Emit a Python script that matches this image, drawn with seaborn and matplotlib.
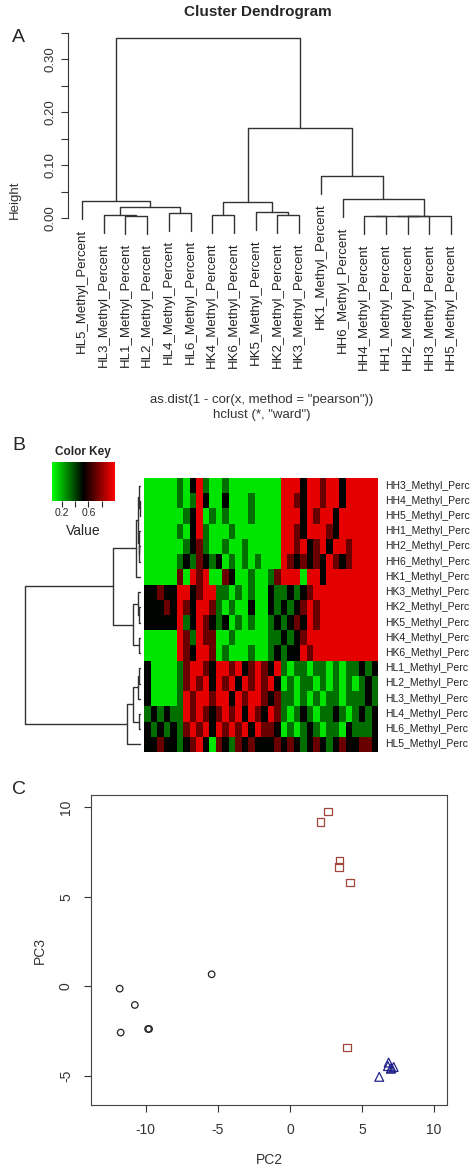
import numpy as np
import pandas as pd
import matplotlib
matplotlib.use("Agg")
import matplotlib.pyplot as plt
from matplotlib.colors import LinearSegmentedColormap
import seaborn as sns

sns.set_style("white")
plt.rcParams['font.family'] = ['Liberation Sans', 'DejaVu Sans']

# ---------------- data ----------------
dend_labels = ["HL5", "HL3", "HL1", "HL2", "HL4", "HL6", "HK4", "HK6", "HK5", "HK2", "HK3",
               "HK1", "HH6", "HH4", "HH1", "HH2", "HH3", "HH5"]
# merge tree (leaf indices in order above), heights
tree_hl = (0, ((1, (2, 3, 0.0045), 0.0057), (4, 5, 0.010), 0.021), 0.032)
tree_hk = ((6, 7, 0.006), (8, (9, 10, 0.005), 0.011), 0.030)
tree_hh = (11, (12, (((13, 14, 0.003), (15, 16, 0.003), 0.0031), 17, 0.0032), 0.036), 0.079)
tree_a = (tree_hl, (tree_hk, tree_hh, 0.17), 0.34)

heat_rows = ["HH3", "HH4", "HH5", "HH1", "HH2", "HH6", "HK1", "HK3", "HK2", "HK5", "HK4", "HK6",
             "HL1", "HL2", "HL3", "HL4", "HL6", "HL5"]
heat_codes = [
    "ggggg" "GgkRGg" "gGggggg" "ggg" "RRRkRRrRRkRRRRR",
    "ggggg" "GgGRkg" "gkgggGg" "ggg" "RRrkRRrRRkRRRRR",
    "ggggg" "gGkRgG" "gGgggGg" "ggg" "RRRkRrRRkRRRRRR",
    "ggggg" "GgkRGg" "ggGgggg" "ggg" "RRrkRRRrkRRRRRR",
    "ggggg" "gGkrGg" "gGggGgg" "ggg" "RRrRkrRkRRrRRRR",
    "ggggg" "GkGrkG" "kgGgGgG" "ggg" "RrkrkrkRrkrRRRR",
    "ggggg" "rgRrRg" "grkggGg" "gGr" "RRRgRRkRRRRRRRR",
    "kkrkk" "RRkrRR" "GGgGgGg" "gkG" "GkGkrRRRRRRRRRR",
    "kkkrk" "RrkRRr" "GgGggkg" "gkG" "kGkrRrRRRRRRRRR",
    "kkkkk" "RGkRrk" "GkgGgGg" "gGk" "GkrkRrRRRRRRRRR",
    "ggggg" "RrGRrr" "ggGgggg" "gGG" "kGkrRRRRRRRRRRR",
    "ggggg" "RrkRRr" "gGgggGg" "gGk" "GkkRrRRRRRRRRRR",
    "kgggg" "GrRRrk" "RRrRkrR" "rkR" "GgGGgGGgGgGGkGk",
    "kgggg" "GrRrRk" "RrRkRrR" "rRk" "gGgGGgGgGgGgGkG",
    "kgggg" "GRrRRr" "RRkRrRR" "rkr" "GGgGgGgGGgGGGkG",
    "GkGkG" "GRrRrk" "rRrRkRr" "kRr" "GgGkGgGGkGgGkGk",
    "kGkGk" "GrRrRk" "RrRrRkR" "rrk" "gGgGkGgGGgkGGGk",
    "kkrkk" "GkrRkg" "rkGrkrk" "kkr" "krkGkrkGkrkkrrk",
]
code_values = {"g": 0.10, "G": 0.32, "k": 0.52, "r": 0.72, "R": 0.95}
# row dendrogram of panel B (row indices above), heights in pixel units
tree_b_hh = (((0, (1, 2, 0.5), 1.0), (3, (4, 5, 0.8), 1.2), 2.0), 6, 4.0)
tree_b_hk = ((7, (8, 9, 1.0), 2.0), (10, 11, 1.5), 7.0)
tree_b_hl = ((((12, 13, 1.0), 14, 2.0), (15, 16, 1.5), 7.0), 17, 13.0)
tree_b = ((tree_b_hh, tree_b_hk, 27.0), tree_b_hl, 115.0)

circ_x = [-11.81, -10.76, -11.74, -9.77, -9.84, -5.43]
circ_y = [-0.13, -1.04, -2.58, -2.38, -2.38, 0.67]
sq_x = [2.65, 2.12, 3.44, 3.40, 4.16, 3.97]
sq_y = [9.76, 9.16, 7.01, 6.65, 5.80, -3.40]
tri_x = [6.85, 7.20, 6.80, 7.05, 7.00, 6.20]
tri_y = [-4.25, -4.50, -4.45, -4.55, -4.60, -5.05]

# ---------------- helpers ----------------
W, H = 474, 1169
fig = plt.figure(figsize=(W / 100, H / 100), dpi=100)


def rect(x0, y0, x1, y1):
    return [x0 / W, 1 - y1 / H, (x1 - x0) / W, (y1 - y0) / H]


def draw_tree(node, segs, leaf_h):
    """returns (position, height); collects line segments as (pos list, height list)."""
    if isinstance(node, int):
        return node, None
    l, r, h = node
    pl, hl = draw_tree(l, segs, leaf_h)
    pr, hr = draw_tree(r, segs, leaf_h)
    bl = hl if hl is not None else leaf_h(h, l)
    br = hr if hr is not None else leaf_h(h, r)
    segs.append(([pl, pl, pr, pr], [bl, h, h, br]))
    return (pl + pr) / 2, h


# ---------------- panel A ----------------
axA = fig.add_axes(rect(68, 33, 462, 218))
leaf_ends = {}


def leafA(h, leaf):
    leaf_ends[leaf] = h - 0.034
    return h - 0.034


segs = []
draw_tree(tree_a, segs, leafA)
for xs, ys in segs:
    axA.plot([x + 1 for x in xs], ys, color="#333333", lw=1.0, clip_on=False)
for i, lab in enumerate(dend_labels):
    axA.text(i + 1, leaf_ends[i] - 0.018, lab + "_Methyl_Percent", rotation=90,
             ha="center", va="top", fontsize=9.5, color="#222222", clip_on=False)
axA.set_xlim(0.355, 18.5)
axA.set_ylim(0, 0.35)
for s in ["top", "right", "bottom"]:
    axA.spines[s].set_visible(False)
axA.spines["left"].set_color("#333333")
axA.set_xticks([])
axA.set_yticks(np.arange(0, 0.351, 0.05))
axA.set_yticklabels(["0.00", "", "0.10", "", "0.20", "", "0.30", ""], rotation=90,
                    va="center", fontsize=9.5, color="#333333")
axA.tick_params(axis="y", length=5, color="#333333", left=True)
fig.text(258 / W, 1 - 12 / H, "Cluster Dendrogram", ha="center", va="center",
         fontsize=11, fontweight="bold")
fig.text(15 / W, 1 - 200 / H, "Height", rotation=90, ha="center", va="center", fontsize=9.5,
         color="#333333")
fig.text(262 / W, 1 - 400 / H, 'as.dist(1 - cor(x, method = "pearson"))', ha="center",
         va="center", fontsize=9.5, color="#333333")
fig.text(262 / W, 1 - 415 / H, 'hclust (*, "ward")', ha="center", va="center", fontsize=9.5,
         color="#333333")
fig.text(12 / W, 1 - 38 / H, "A", fontsize=14, va="center")

# ---------------- panel B ----------------
cmap = LinearSegmentedColormap.from_list("gkr", ["#00FF00", "#000000", "#FF0000"])
mat = np.array([[code_values[c] for c in row] for row in heat_codes])
df = pd.DataFrame(mat, index=[r + "_Methyl_Perc" for r in heat_rows])
axH = fig.add_axes(rect(144, 478, 378, 752))
sns.heatmap(df, ax=axH, cmap=cmap, vmin=0.05, vmax=1.0, cbar=False,
            xticklabels=False, yticklabels=False)
ncol = mat.shape[1]
for i, lab in enumerate(df.index):
    axH.text(ncol + 1.05, i + 0.5, lab, ha="left", va="center", fontsize=7.5,
             color="#222222", clip_on=False)

axD = fig.add_axes(rect(20, 478, 140, 752))
segsB = []
draw_tree(tree_b, segsB, lambda h, leaf: 0.0)
for ys, xs in segsB:
    axD.plot(xs, [y + 0.5 for y in ys], color="#333333", lw=1.0, clip_on=False)
axD.set_xlim(120, 0)
axD.set_ylim(18, 0)
axD.axis("off")

axK = fig.add_axes(rect(52, 462, 115, 501))
grad = np.linspace(0.05, 1.0, 200)[None, :]
axK.imshow(grad, cmap=cmap, aspect="auto", extent=(0.05, 1.0, 0, 1), vmin=0.05, vmax=1.0)
axK.set_yticks([])
axK.set_xticks([0.2, 0.4, 0.6, 0.8])
axK.set_xticklabels(["0.2", "", "0.6", ""], fontsize=7.5)
axK.tick_params(axis="x", length=4, pad=1, bottom=True)
for s in axK.spines.values():
    s.set_visible(False)
fig.text(83 / W, 1 - 452 / H, "Color Key", ha="center", va="center", fontsize=8.5,
         fontweight="bold")
fig.text(83 / W, 1 - 531 / H, "Value", ha="center", va="center", fontsize=10)
fig.text(12 / W, 1 - 446 / H, "B", fontsize=14, va="center")

# ---------------- panel C ----------------
axC = fig.add_axes(rect(91, 795, 447, 1105))
pts = pd.DataFrame({
    "PC2": circ_x + sq_x + tri_x,
    "PC3": circ_y + sq_y + tri_y,
    "grp": ["HL"] * len(circ_x) + ["HH"] * len(sq_x) + ["HK"] * len(tri_x),
})
styles = {"HL": ("o", "#222222", 22), "HH": ("s", "#A0463C", 28), "HK": ("^", "#23238C", 40)}
for g, (m, c, s) in styles.items():
    sub = pts[pts.grp == g]
    sns.scatterplot(data=sub, x="PC2", y="PC3", ax=axC, marker=m, s=s,
                    facecolors="none", edgecolor=c, linewidth=0.9, legend=False)
axC.set_xlim(-13.8, 10.9)
axC.set_ylim(-6.62, 10.67)
axC.set_xticks([-10, -5, 0, 5, 10])
axC.set_yticks([-5, 0, 5, 10])
axC.set_xticklabels(["-10", "-5", "0", "5", "10"], fontsize=10, color="#333333")
axC.set_yticklabels(["-5", "0", "5", "10"], fontsize=10, rotation=90, va="center",
                    color="#333333")
axC.tick_params(length=5, color="#333333", bottom=True, left=True, pad=8)
for s in axC.spines.values():
    s.set_color("#444444")
axC.set_xlabel("")
axC.set_ylabel("")
fig.text(269 / W, 1 - 1160 / H, "PC2", ha="center", va="center", fontsize=10, color="#333333")
fig.text(40 / W, 1 - 950 / H, "PC3", rotation=90, ha="center", va="center", fontsize=10,
         color="#333333")
fig.text(12 / W, 1 - 790 / H, "C", fontsize=14, va="center")

fig.savefig("out.png", dpi=100, facecolor="white")
